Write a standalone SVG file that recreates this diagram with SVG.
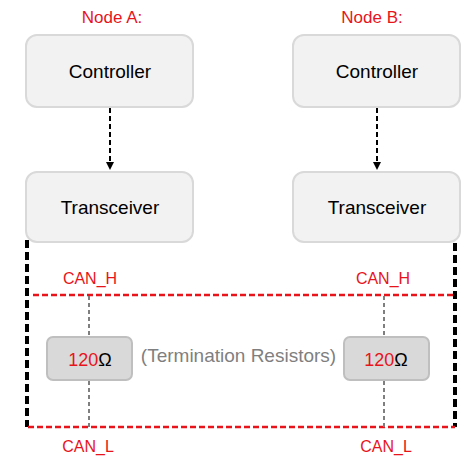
<svg xmlns="http://www.w3.org/2000/svg" width="474" height="467" viewBox="0 0 474 467">
<style>
.box{fill:#f2f2f2;stroke:#d9d9d9;stroke-width:2}
.res{fill:#d9d9d9;stroke:#bfbfbf;stroke-width:2}
.t{font-family:"Liberation Sans",Arial,sans-serif;text-anchor:middle}
.lbl{font-size:17px;fill:#e8141c}
.nt{font-size:19px;fill:#000}
.can{font-size:16px;fill:#e8141c}
.arrow{stroke:#000;stroke-width:2;stroke-dasharray:5,3;fill:none}
.blk{stroke:#000;stroke-width:4;stroke-dasharray:8,4;fill:none}
.red{stroke:#e8141c;stroke-width:2.5;stroke-dasharray:6,3;fill:none}
.gry{stroke:#7f7f7f;stroke-width:2;stroke-dasharray:4,3;fill:none}
</style>
<rect width="474" height="467" fill="#fff"/>
<text class="t lbl" x="112" y="23">Node A:</text>
<text class="t lbl" x="372" y="23">Node B:</text>
<g id="ctrlA"><rect class="box" x="26" y="35" width="167" height="72" rx="11"/><text class="t nt" x="110" y="78">Controller</text></g>
<g id="ctrlB"><rect class="box" x="293" y="35" width="167" height="72" rx="11"/><text class="t nt" x="377" y="78">Controller</text></g>
<g id="trxA"><rect class="box" x="26" y="172" width="167" height="70" rx="11"/><text class="t nt" x="110" y="214">Transceiver</text></g>
<g id="trxB"><rect class="box" x="293" y="172" width="167" height="70" rx="11"/><text class="t nt" x="377" y="214">Transceiver</text></g>
<g id="connectors">
<line class="arrow" x1="110" y1="108" x2="110" y2="163"/>
<path d="M106,162 L114,162 L110,170 Z" fill="#000"/>
<line class="arrow" x1="377" y1="108" x2="377" y2="163"/>
<path d="M373,162 L381,162 L377,170 Z" fill="#000"/>
<line class="blk" x1="27" y1="240" x2="27" y2="427"/>
<line class="blk" x1="455" y1="243" x2="455" y2="427"/>
<line class="red" x1="33" y1="295" x2="455" y2="295"/>
<line class="red" x1="28" y1="427" x2="455" y2="427"/>
<line class="gry" x1="89" y1="296" x2="89" y2="337"/>
<line class="gry" x1="89" y1="381" x2="89" y2="427"/>
<line class="gry" x1="384" y1="296" x2="384" y2="337"/>
<line class="gry" x1="384" y1="381" x2="384" y2="427"/>
</g>
<text class="t can" x="90" y="284">CAN_H</text>
<text class="t can" x="383" y="284">CAN_H</text>
<text class="t can" x="88" y="452">CAN_L</text>
<text class="t can" x="386" y="452">CAN_L</text>
<g id="resA"><rect class="res" x="47" y="337" width="85" height="43" rx="6"/><text class="t" x="90" y="366" font-size="18"><tspan fill="#e8141c">120</tspan><tspan fill="#000">Ω</tspan></text></g>
<g id="resB"><rect class="res" x="344" y="337" width="85" height="43" rx="6"/><text class="t" x="386" y="366" font-size="18"><tspan fill="#e8141c">120</tspan><tspan fill="#000">Ω</tspan></text></g>
<text class="t" x="238.5" y="362" font-size="19" fill="#7f7f7f">(Termination Resistors)</text>
</svg>
